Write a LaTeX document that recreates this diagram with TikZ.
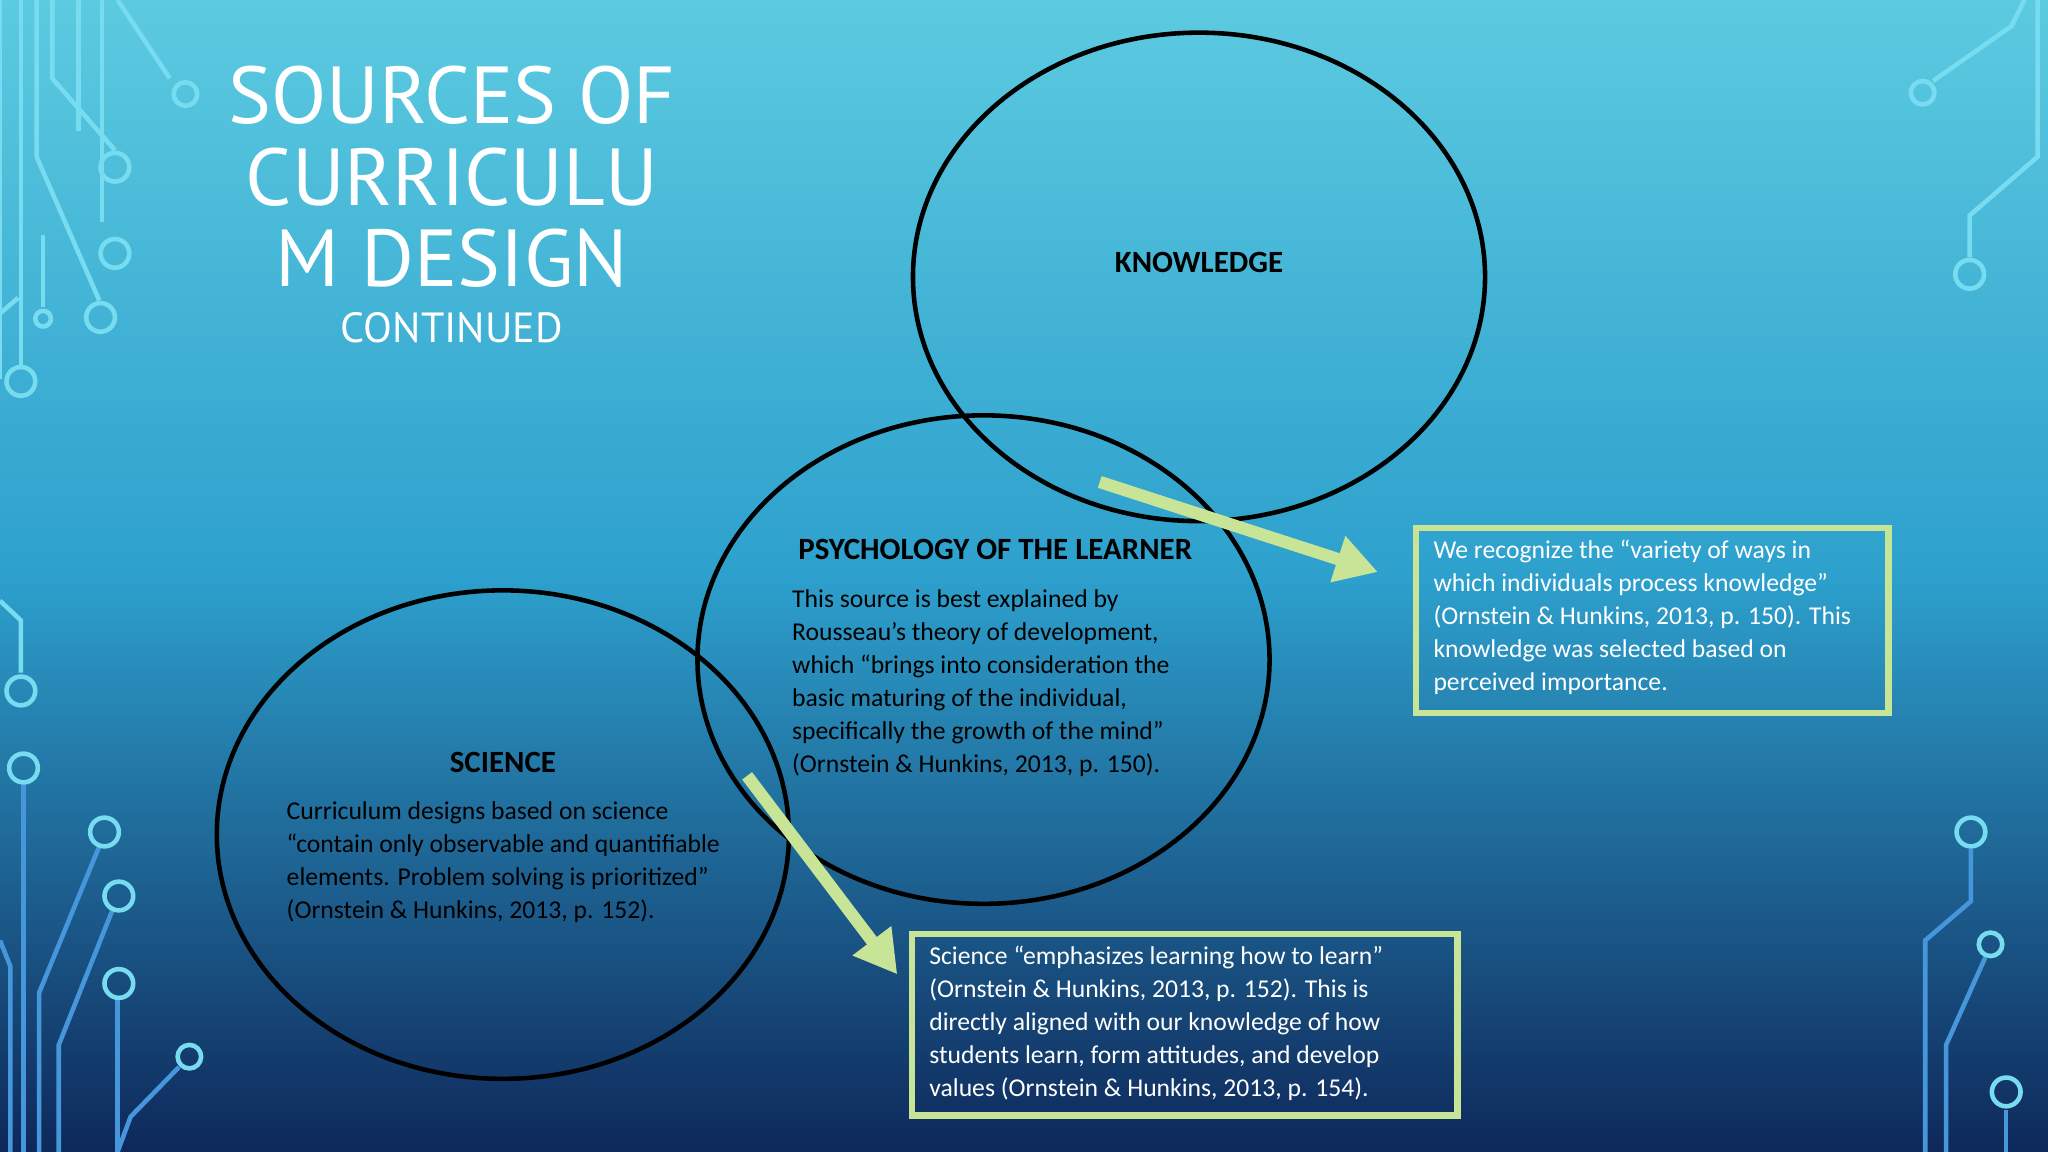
\documentclass[tikz,border=0pt]{standalone}
\usepackage{fontspec}
\setmainfont{Carlito}
\newfontfamily\titlefont{PT Sans}
\usetikzlibrary{arrows.meta}
\definecolor{bgtop}{RGB}{92,202,224}
\definecolor{bgmid}{RGB}{45,160,205}
\definecolor{bgbot}{RGB}{14,40,90}
\definecolor{grn}{RGB}{200,228,150}
\definecolor{circ}{RGB}{120,220,240}
\definecolor{circb}{RGB}{70,150,220}
\begin{document}
\begin{tikzpicture}[x=0.013061cm,y=-0.013061cm,
  body/.style={font=\fontsize{7.3}{9.4}\selectfont,align=left,anchor=north west,inner sep=0pt,text=black},
  wbody/.style={font=\fontsize{7.3}{9.4}\selectfont,align=left,anchor=north west,inner sep=0pt,text=white},
  head/.style={font=\fontsize{8.8}{11}\selectfont\bfseries,text=black},
  ttl/.style={font=\titlefont\fontsize{23}{23}\selectfont,text=white,inner sep=0pt},
  gbox/.style={draw=grn,line width=1.8pt},
  garrow/.style={draw=grn,line width=3.5pt,-{Triangle[length=12pt,width=13pt]}},
  trace/.style={draw=circ,line width=1.3pt},
  traceb/.style={draw=circb,line width=1.3pt},
  pad/.style={draw=circ,line width=1.3pt,fill=none}]
\useasboundingbox (0,0) rectangle (1568,882);
\shade[shading angle=155, top color=bgtop, bottom color=bgbot, middle color=bgmid] (0,0) rectangle (1568,882);
% circuit traces left top
\draw[trace] (0,0) -- (0,290);
\draw[trace] (16,0) -- (16,280); \draw[pad] (16,292) circle (11);
\draw[trace] (28,0) -- (28,120) -- (76,230); \draw[pad] (77,243) circle (11);
\draw[trace] (40,0) -- (40,60) -- (88,115); \draw[pad] (88,128) circle (11);
\draw[trace] (78,0) -- (78,170) ; \draw[pad] (88,194) circle (11);
\draw[trace] (60,0) -- (60,100) ;
\draw[trace] (90,0) -- (130,60); \draw[pad] (142,72) circle (9);
\draw[trace] (33,180) -- (33,235); \draw[pad] (33,244) circle (6);
\draw[trace] (0,240) -- (14,228);
% left bottom
\draw[trace] (0,460) -- (16,475) -- (16,515); \draw[pad] (16,529) circle (11);
\draw[traceb] (18,600) -- (18,882); \draw[pad] (18,588) circle (11);
\draw[traceb] (0,720) -- (8,740) -- (8,882);
\draw[traceb] (76,648) -- (30,760) -- (30,882); \draw[pad] (80,637) circle (11);
\draw[traceb] (86,697) -- (45,800) -- (45,882); \draw[pad] (91,686) circle (11);
\draw[traceb] (90,765) -- (90,882); \draw[pad] (91,753) circle (11);
\draw[traceb] (137,817) -- (100,855) -- (90,882); \draw[pad] (145,809) circle (9);
% right top
\draw[trace] (1550,0) -- (1540,20) -- (1480,62); \draw[pad] (1472,71) circle (9);
\draw[trace] (1560,0) -- (1560,120) -- (1508,165) -- (1508,197); \draw[pad] (1508,210) circle (11);
% right bottom
\draw[traceb] (1509,650) -- (1509,690) -- (1474,720) -- (1474,882); \draw[pad] (1509,637) circle (11);
\draw[traceb] (1520,733) -- (1490,800) -- (1490,882); \draw[pad] (1524,723) circle (9);
\draw[traceb] (1536,850) -- (1536,882); \draw[pad] (1536,836) circle (11);
% title
\node[ttl] (t1) at (346,73) {SOURCES OF};
\node[ttl] (t2) at (346,136) {CURRICULU};
\node[ttl] (t3) at (346,198) {M DESIGN};
\node[font=\titlefont\fontsize{12}{14}\selectfont,text=white] (cont) at (346,251) {CONTINUED};
% ellipses
\draw[line width=1.3pt] (918,212) ellipse [x radius=219, y radius=187];
\draw[line width=1.3pt] (753,505) ellipse [x radius=219, y radius=187];
\draw[line width=1.3pt] (385,639) ellipse [x radius=219, y radius=187];
\node[head] (know) at (918,201) {KNOWLEDGE};
\node[head] (psy) at (762,421) {PSYCHOLOGY OF THE LEARNER};
\node[body] (psyt) at (606,451) {This source is best explained by\\Rousseau’s theory of development,\\which “brings into consideration the\\basic maturing of the individual,\\specifically the growth of the mind”\\(Ornstein \& Hunkins, 2013, p. 150).};
\node[head] (sci) at (385,584) {SCIENCE};
\node[body] (scit) at (219,613) {Curriculum designs based on science\\“contain only observable and quantifiable\\elements. Problem solving is prioritized”\\(Ornstein \& Hunkins, 2013, p. 152).};
% boxes
\draw[gbox] (1084,404) rectangle (1446,546);
\node[wbody] (b1) at (1097,413) {We recognize the “variety of ways in\\which individuals process knowledge”\\(Ornstein \& Hunkins, 2013, p. 150). This\\knowledge was selected based on\\perceived importance.};
\draw[gbox] (698,715) rectangle (1116,854);
\node[wbody] (b2) at (711,724) {Science “emphasizes learning how to learn”\\(Ornstein \& Hunkins, 2013, p. 152). This is\\directly aligned with our knowledge of how\\students learn, form attitudes, and develop\\values (Ornstein \& Hunkins, 2013, p. 154).};
% arrows
\coordinate (a1s) at (842,369); \coordinate (a1e) at (1055,438);
\coordinate (a2s) at (572,594); \coordinate (a2e) at (687,746);
\draw[garrow] (a1s) -- (a1e);
\draw[garrow] (a2s) -- (a2e);
\end{tikzpicture}
\end{document}
